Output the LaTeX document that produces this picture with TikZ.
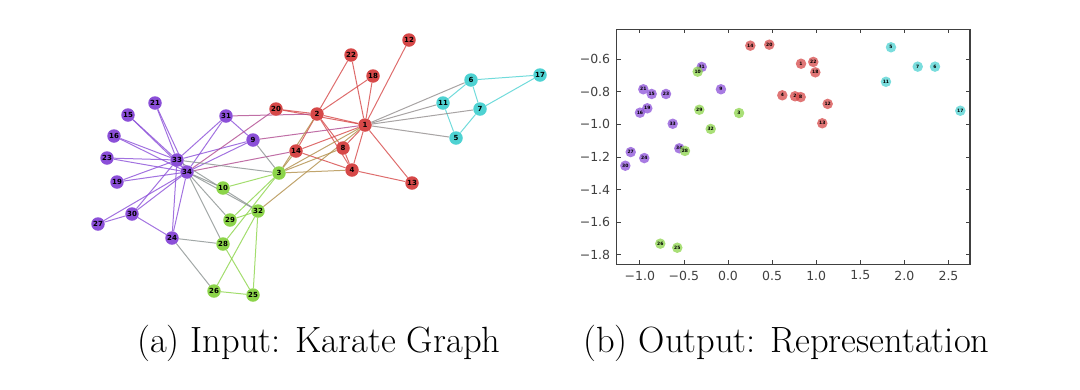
\documentclass[tikz,border=0pt]{standalone}
\usepackage{fontspec}
\newfontfamily\plotfont{DejaVu Sans}
\definecolor{kpurple}{RGB}{139,79,216}
\definecolor{kred}{RGB}{214,72,72}
\definecolor{kgreen}{RGB}{140,212,74}
\definecolor{kcyan}{RGB}{78,210,210}
\pgfdeclarelayer{bg}
\pgfsetlayers{bg,main}
\tikzset{
  vtx/.style={circle, inner sep=0pt, minimum size=13.5pt, font=\plotfont\bfseries\fontsize{7}{8}\selectfont},
  link/.style={line width=1pt, opacity=0.8},
  dot/.style={circle, inner sep=0pt, minimum size=10.5pt, fill opacity=0.75, text opacity=1, font=\plotfont\bfseries\fontsize{4.5}{5}\selectfont},
  axisframe/.style={line width=1.1pt, black!75},
  ticklab/.style={font=\plotfont\fontsize{12.5}{14}\selectfont, text=black!75},
  captext/.style={font=\fontsize{36.5}{42}\selectfont, anchor=base west, inner sep=0pt}
}
\begin{document}
\begin{tikzpicture}[x=1pt,y=-1pt]
\useasboundingbox (0,0) rectangle (1080,389);

% (a) the karate club graph
\foreach \n/\px/\py in {9/253/140, 15/128/115, 16/114/136, 19/117/182, 21/155/103, 23/107/158, 24/172/238, 27/98/224, 30/132/214, 31/226/116, 33/177/160, 34/187/172}
  \node[vtx, fill=kpurple] (g\n) at (\px,\py) {\n};
\foreach \n/\px/\py in {1/365/125, 2/317/114, 4/352/170, 8/343/148, 12/409/40, 13/412/183, 14/296/151, 18/373/76, 20/276/109, 22/351/55}
  \node[vtx, fill=kred] (g\n) at (\px,\py) {\n};
\foreach \n/\px/\py in {3/279/173, 10/223/188, 25/253/295, 26/214/291, 28/223/244, 29/230/220, 32/258/211}
  \node[vtx, fill=kgreen] (g\n) at (\px,\py) {\n};
\foreach \n/\px/\py in {5/456/138, 6/471/80, 7/480/109, 11/443/103, 17/540/75}
  \node[vtx, fill=kcyan] (g\n) at (\px,\py) {\n};

\begin{pgfonlayer}{bg}
\foreach \a/\b in {9/31, 9/33, 9/34, 15/33, 15/34, 16/33, 16/34, 19/33, 19/34, 21/33, 21/34, 23/33, 23/34, 24/30, 24/33, 24/34, 27/30, 27/34, 30/33, 30/34, 31/33, 31/34, 33/34}
  \draw[link, kpurple] (g\a) -- (g\b);
\foreach \a/\b in {1/2, 1/4, 1/8, 1/12, 1/13, 1/14, 1/18, 1/20, 1/22, 2/4, 2/8, 2/14, 2/18, 2/20, 2/22, 4/8, 4/13, 4/14}
  \draw[link, kred] (g\a) -- (g\b);
\foreach \a/\b in {3/10, 3/28, 3/29, 25/26, 25/28, 25/32, 26/32, 29/32}
  \draw[link, kgreen] (g\a) -- (g\b);
\foreach \a/\b in {5/7, 5/11, 6/7, 6/11, 6/17, 7/17}
  \draw[link, kcyan] (g\a) -- (g\b);
% edges between groups take the mixed colour
\foreach \a/\b in {1/9, 2/31, 14/34, 20/34}
  \draw[link, kred!50!kpurple] (g\a) -- (g\b);
\foreach \a/\b in {1/3, 1/32, 2/3, 3/4, 3/8, 3/14}
  \draw[link, kred!50!kgreen] (g\a) -- (g\b);
\foreach \a/\b in {1/5, 1/6, 1/7, 1/11}
  \draw[link, kred!50!kcyan] (g\a) -- (g\b);
\foreach \a/\b in {3/9, 3/33, 10/34, 24/26, 24/28, 28/34, 29/34, 32/33, 32/34}
  \draw[link, kgreen!50!kpurple] (g\a) -- (g\b);
\end{pgfonlayer}

% (b) the learned 2-d representation
\begin{scope}[shift={(728,-38.3)}, x=88.2pt, y=162.7pt]
  \draw[axisframe] (-1.262,-0.415) rectangle (2.744,-1.86);
  \foreach \t/\l in {-1.0/−1.0, -0.5/−0.5, 0.0/0.0, 0.5/0.5, 1.0/1.0, 1.5/1.5, 2.0/2.0, 2.5/2.5} {
    \draw[axisframe, line width=0.8pt] (\t,-1.86) -- ++(0,4pt);
    \draw[axisframe, line width=0.8pt] (\t,-0.415) -- ++(0,-4pt);
    \node[ticklab, below=3pt] at (\t,-1.86) {\l};
  }
  \foreach \t/\l in {-0.6/−0.6, -0.8/−0.8, -1.0/−1.0, -1.2/−1.2, -1.4/−1.4, -1.6/−1.6, -1.8/−1.8} {
    \draw[axisframe, line width=0.8pt] (-1.262,\t) -- ++(4pt,0);
    \draw[axisframe, line width=0.8pt] (2.744,\t) -- ++(-4pt,0);
    \node[ticklab, left=3pt] at (-1.262,\t) {\l};
  }
  \foreach \n/\dx/\dy in {9/-0.08/-0.784, 15/-0.865/-0.813, 16/-0.998/-0.928, 19/-0.915/-0.901, 21/-0.96/-0.784, 23/-0.703/-0.813, 24/-0.949/-1.207, 27/-1.103/-1.17, 30/-1.164/-1.254, 31/-0.298/-0.647, 33/-0.627/-0.996, 34/-0.552/-1.147}
    \node[dot, fill=kpurple] (p\n) at (\dx,\dy) {\n};
  \foreach \n/\dx/\dy in {1/0.828/-0.627, 2/0.76/-0.827, 4/0.616/-0.821, 8/0.824/-0.832, 12/1.13/-0.874, 13/1.069/-0.993, 14/0.253/-0.516, 18/0.99/-0.68, 20/0.468/-0.51, 22/0.967/-0.616}
    \node[dot, fill=kred] (p\n) at (\dx,\dy) {\n};
  \foreach \n/\dx/\dy in {3/0.125/-0.93, 10/-0.344/-0.676, 25/-0.575/-1.758, 26/-0.768/-1.733, 28/-0.488/-1.163, 29/-0.325/-0.91, 32/-0.196/-1.028}
    \node[dot, fill=kgreen] (p\n) at (\dx,\dy) {\n};
  \foreach \n/\dx/\dy in {5/1.848/-0.526, 6/2.347/-0.645, 7/2.151/-0.645, 11/1.791/-0.738, 17/2.634/-0.916}
    \node[dot, fill=kcyan] (p\n) at (\dx,\dy) {\n};
\end{scope}

\node[captext] (capa) at (137,352) {(a) Input: Karate Graph};
\node[captext] (capb) at (583,352) {(b) Output: Representation};
\end{tikzpicture}
\end{document}
